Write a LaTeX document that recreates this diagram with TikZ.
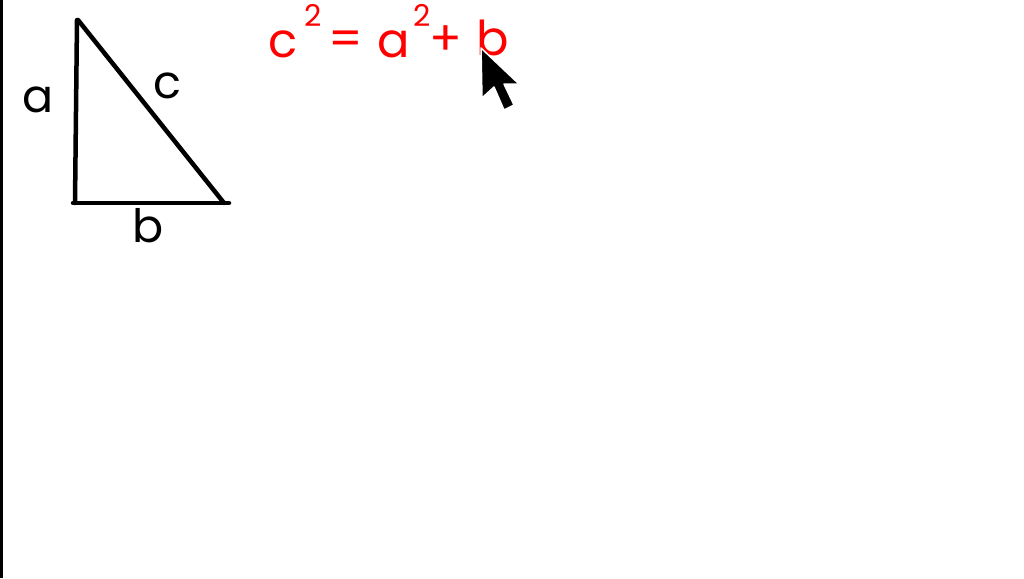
\documentclass[tikz,border=0pt]{standalone}
\usepackage{fontspec}
\setmainfont{Poppins}
\usepackage{tikz}
\usetikzlibrary{positioning}
\usepackage{xcolor}

\tikzset{
    side/.style={line width=4.5pt, line cap=round},
    lbl/.style={inner sep=0pt, font=\fontsize{46}{46}\selectfont},
    eqn/.style={inner sep=0pt, text=red, font=\fontsize{48}{48}\selectfont, anchor=base west},
    sqr/.style={eqn, font=\fontsize{30}{30}\selectfont}
}

\begin{document}
\begin{tikzpicture}[x=1pt, y=-1pt]
    \useasboundingbox[fill=white] (0,0) rectangle (1024,578);
    \draw[line width=3pt] (1.5,0) -- (1.5,578);
    % triangle
    \coordinate (top) at (77,20);
    \coordinate (bl) at (75,203);
    \coordinate (br) at (224,203);
    \draw[side] (top) -- (bl);
    \draw[side] ([xshift=-2pt]bl) -- ([xshift=5pt]br);
    \draw[side] ([xshift=1pt]top) -- (br);
    \node[lbl] (a) at (38,100) {a};
    \node[lbl] (b) at (148,226) {b};
    \node[lbl] (c) at (167,86) {c};
    % equation
    \node[eqn] (eqc) at (268,58) {c};
    \node[sqr] (sqc) at (304,27) {2};
    \node[eqn] (eqs) at (328,56) {=};
    \node[eqn] (eqa) at (377,58) {a};
    \node[sqr] (sqa) at (413,27) {2};
    \node[eqn] (eqp) at (429,56) {+};
    \node[eqn] (eqb) at (476,56) {b};
    % cursor
    \filldraw[fill=black, draw=white, line width=1.5pt, line join=round]
        (481,48) -- (482,98) -- (494,87) -- (504,110) -- (514,105) -- (504,84) -- (519,84) -- cycle;
\end{tikzpicture}
\end{document}
